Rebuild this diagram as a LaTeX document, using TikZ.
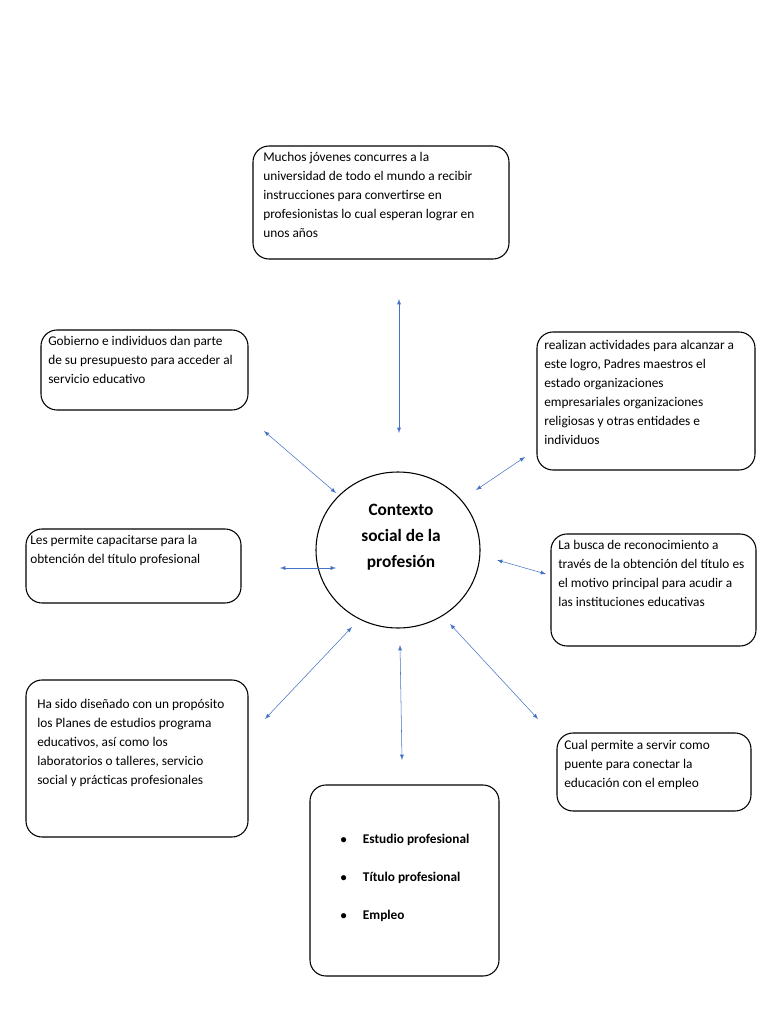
\documentclass[tikz,border=0pt]{standalone}
\usepackage{fontspec}
\setmainfont{Carlito}
\begin{document}
\begin{tikzpicture}[x=0.75pt,y=-0.75pt,
 box/.style={draw,thick,rounded corners=12pt},
 txt/.style={anchor=north west,align=left,inner sep=0pt,font=\fontsize{10}{14.2}\selectfont},
 ar/.style={draw={rgb,255:red,68;green,114;blue,196},<->,>=latex}]
\useasboundingbox (0,0) rectangle (768,1024);
\draw[box] (253,146) rectangle (509,259);
\node[txt] (t1) at (263,152) {Muchos jóvenes concurres a la\\universidad de todo el mundo a recibir\\instrucciones para convertirse en\\profesionistas lo cual esperan lograr en\\unos años};
\draw[box] (41,330) rectangle (248,410);
\node[txt] (t2) at (48,336) {Gobierno e individuos dan parte\\de su presupuesto para acceder al\\servicio educativo};
\draw[box] (537,332) rectangle (755,470);
\node[txt] (t3) at (544,340) {realizan actividades para alcanzar a\\este logro, Padres maestros el\\estado organizaciones\\empresariales organizaciones\\religiosas y otras entidades e\\individuos};
\draw[box] (26,529) rectangle (241,603);
\node[txt] (t4) at (30,535) {Les permite capacitarse para la\\obtención del título profesional};
\draw[box] (551,534) rectangle (756,646);
\node[txt] (t5) at (558,540) {La busca de reconocimiento a\\través de la obtención del título es\\el motivo principal para acudir a\\las instituciones educativas};
\draw[box] (26,680) rectangle (248,837);
\node[txt] (t6) at (37,699) {Ha sido diseñado con un propósito\\los Planes de estudios programa\\educativos, así como los\\laboratorios o talleres, servicio\\social y prácticas profesionales};
\draw[box] (557,733) rectangle (751,811);
\node[txt] (t7) at (564,740) {Cual permite a servir como\\puente para conectar la\\educación con el empleo};
\draw[box] (310,785) rectangle (499,976);
\node[txt,font=\fontsize{10}{28.5}\selectfont] (t8) at (340,834) {$\bullet$\hspace{12pt}\textbf{Estudio profesional}\\$\bullet$\hspace{12pt}\textbf{Título profesional}\\$\bullet$\hspace{12pt}\textbf{Empleo}};
\draw[thick] (398,550) ellipse (82 and 78);
\node[align=center,font=\fontsize{13}{19.5}\selectfont\bfseries] (c) at (401,537) {Contexto\\social de la\\profesión};
\foreach \n/\ax/\ay/\bx/\by in {a/399/299/399/433, b/264/431/336/493, c/525/457/476/490, d/280/568/336/568, e/497/560/546/574, f/352/627/265/719, g/450/624/538/719, h/400/645/402/760}{
 \coordinate (\n1) at (\ax,\ay); \coordinate (\n2) at (\bx,\by);
 \draw[ar] (\n1) -- (\n2);}
\end{tikzpicture}
\end{document}
